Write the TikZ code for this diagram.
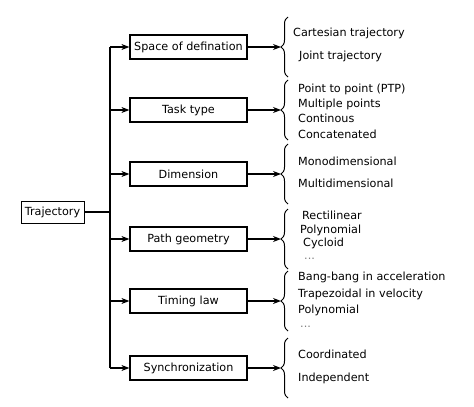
\documentclass[tikz,border=0pt]{standalone}
\usepackage{fontspec}
\setmainfont{DejaVu Sans}
\usetikzlibrary{arrows.meta,decorations.pathreplacing}
\begin{document}
\begin{tikzpicture}[x=1pt,y=-1pt,
  catbox/.style={draw,line width=1.2pt,minimum width=117pt,minimum height=24pt,inner sep=0pt,font=\fontsize{11.2}{13}\selectfont},
  rootbox/.style={draw,line width=1pt,minimum width=63pt,minimum height=22pt,inner sep=0pt,font=\fontsize{11.2}{13}\selectfont},
  item/.style={anchor=west,inner sep=0pt,text height=8pt,text depth=2.2pt,font=\fontsize{11.2}{13}\selectfont},
  link/.style={line width=1.2pt},
  arr/.style={line width=1.2pt,-{Stealth[length=8pt,width=6pt]}},
  brc/.style={line width=1pt,decorate,decoration={brace,amplitude=7pt}}]
\useasboundingbox (0,0) rectangle (474,407);
\node[rootbox] (traj) at (52.5,212) {Trajectory};
\coordinate (tj) at (110,212);
\coordinate (ttop) at (110,47);
\coordinate (tbot) at (110,368);
\draw[link] (traj.east) -- (tj);
\draw[link] (ttop) -- (tbot);
\foreach \n/\y/\t in {sd/47/Space of defination, tt/110/Task type, dm/174/Dimension, pg/239/Path geometry, tl/301/Timing law, sy/368/Synchronization}{
  \coordinate (b\n) at (110,\y);
  \node[catbox] (\n) at (188.5,\y) {\t};
  \draw[arr] (b\n) -- (\n.west);
  \coordinate (bt\n) at (288,\y-30);
  \coordinate (bb\n) at (288,\y+30);
  \draw[brc] (bb\n) -- (bt\n);
  \coordinate (tip\n) at (281,\y);
  \draw[arr] (\n.east) -- (tip\n);
}
\node[item] (a1) at (293,33.5) {Cartesian trajectory};
\node[item] (a2) at (299,56.5) {Joint trajectory};
\node[item] (b1) at (298,89.5) {Point to point (PTP)};
\node[item] (b2) at (298,104.5) {Multiple points};
\node[item] (b3) at (298,119.5) {Continous};
\node[item] (b4) at (298,135.5) {Concatenated};
\node[item] (c1) at (298,162.5) {Monodimensional};
\node[item] (c2) at (298,184.5) {Multidimensional};
\node[item] (d1) at (302,216.5) {Rectilinear};
\node[item] (d2) at (300,230.5) {Polynomial};
\node[item] (d3) at (303,243.5) {Cycloid};
\node[item] (d4) at (304,256.5) {\textcolor{gray}{...}};
\node[item] (e1) at (298,277.5) {Bang-bang in acceleration};
\node[item] (e2) at (298,294.5) {Trapezoidal in velocity};
\node[item] (e3) at (298,310.5) {Polynomial};
\node[item] (e4) at (300,324.5) {\textcolor{gray}{...}};
\node[item] (f1) at (298,355.5) {Coordinated};
\node[item] (f2) at (298,378.5) {Independent};
\end{tikzpicture}
\end{document}
